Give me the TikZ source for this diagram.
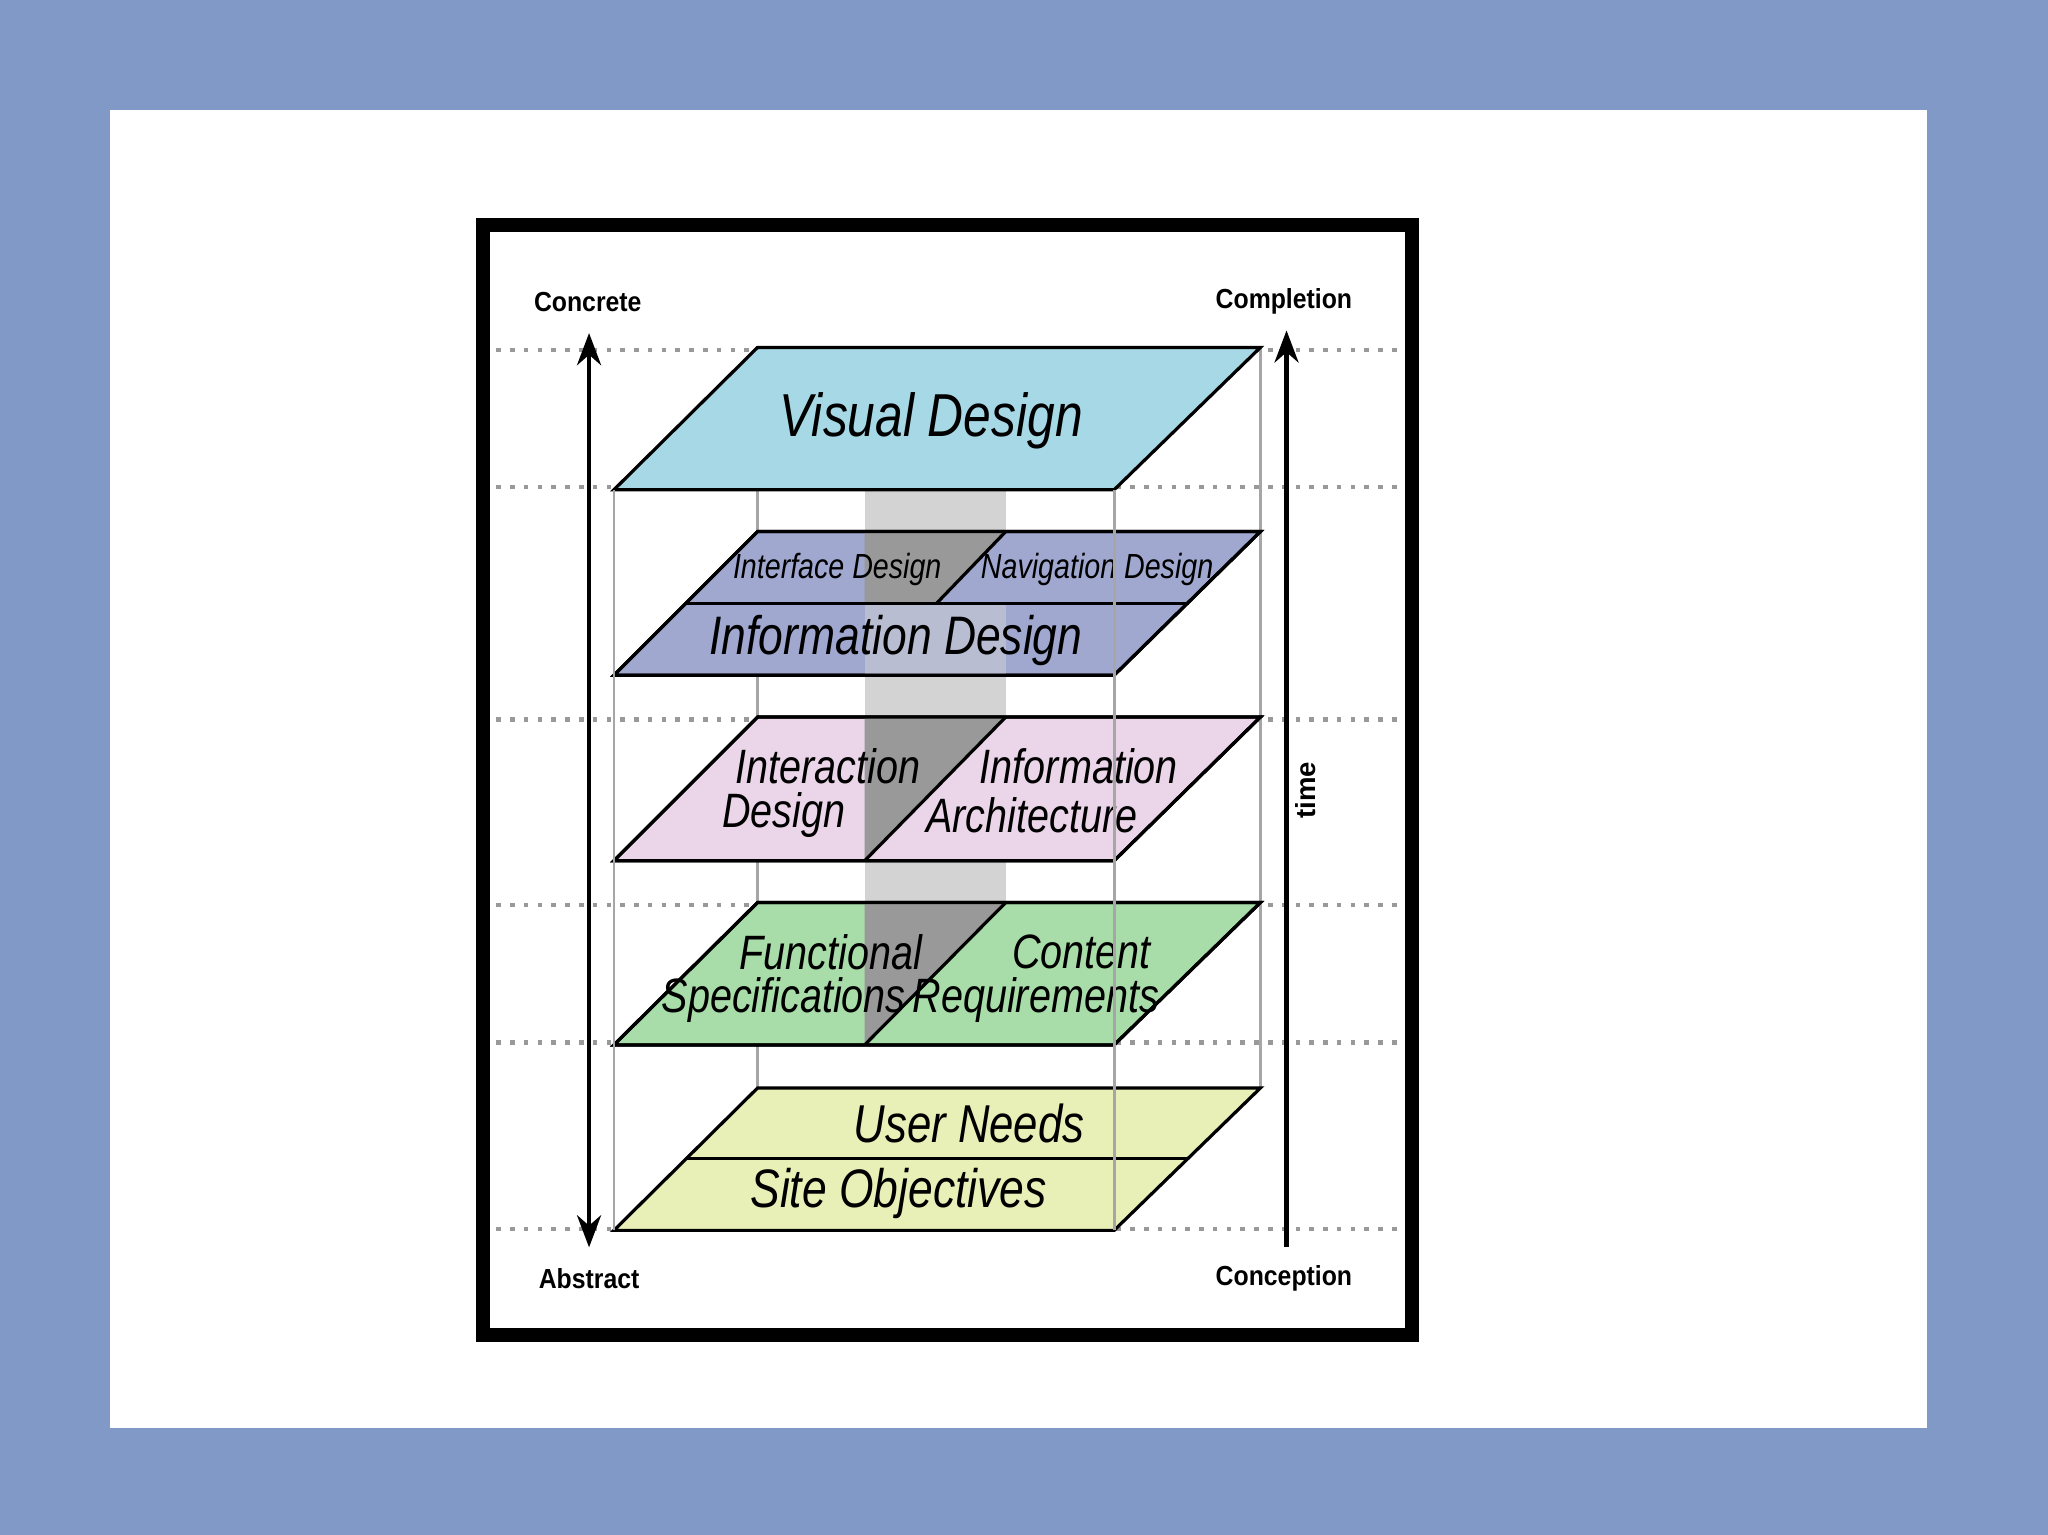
\documentclass[tikz,border=0pt]{standalone}
\usepackage{fontspec}
\setmainfont{Liberation Sans}
\usetikzlibrary{arrows.meta}
\definecolor{bgblue}{HTML}{8199C6}
\definecolor{vis}{HTML}{A6D8E6}
\definecolor{lav}{HTML}{A0A8D0}
\definecolor{pnk}{HTML}{EBD5E8}
\definecolor{grn}{HTML}{A8DCA8}
\definecolor{yel}{HTML}{E8F0B8}
\definecolor{lgray}{HTML}{D3D3D3}
\definecolor{dgray}{HTML}{999999}
\tikzset{
 plane/.style={draw=black, line width=0.7pt},
 guide/.style={draw=gray!70, line width=0.6pt},
 dots/.style={draw=gray!80, dotted, line width=1pt},
 lbl/.style={font=\fontsize{6}{7}\selectfont\bfseries, xscale=0.9, transform shape},
 ptxt/.style={inner sep=0pt, xscale=0.82, transform shape},
}
\newcommand{\pf}[1]{\fontsize{#1}{#1}\selectfont\itshape}
\begin{document}
\begin{tikzpicture}[x=0.01cm,y=-0.01cm]
\useasboundingbox (0,0) rectangle (1568,1175);
\fill[bgblue] (0,0) rectangle (1568,1175);
\fill[white] (84,84) rectangle (1475,1093);
\draw[line width=3pt, fill=white] (370,172) rectangle (1081,1022);
% dotted guides
\foreach \y in {268,373,551,693,798,941} \draw[dots] (380,\y) -- (1075,\y);
% gray column
\fill[lgray] (662,375) rectangle (770,691);
% back verticals
\draw[guide] (580,266) -- (580,833);
\draw[guide] (965,266) -- (965,833);
% Visual design
\draw[plane, fill=vis] (580,266) -- (965,266) -- (853,375) -- (470,375) -- cycle;
\node[ptxt, font=\pf{13.2}] (vd) at (713,322) {Visual Design};
% Interface / Navigation / Information design
\draw[plane, fill=lav] (580,407) -- (965,407) -- (853,517) -- (470,517) -- cycle;
\fill[dgray] (662,407) -- (770,407) -- (717,462) -- (662,462) -- cycle;
\fill[lgray, opacity=0.5] (662,462) rectangle (770,517);
\draw[plane] (580,407) -- (965,407) -- (853,517) -- (470,517) -- cycle;
\draw[plane] (525,462) -- (910,462);
\draw[plane] (770,407) -- (717,462);
\node[ptxt, font=\pf{7.6}] (ifd) at (641,436) {Interface Design};
\node[ptxt, font=\pf{7.6}] (nvd) at (840,436) {Navigation Design};
\node[ptxt, font=\pf{11.8}] (ind) at (686,490) {Information Design};
% Interaction / IA
\draw[plane, fill=pnk] (580,549) -- (965,549) -- (853,659) -- (470,659) -- cycle;
\fill[dgray] (662,549) -- (770,549) -- (662,659) -- cycle;
\draw[plane] (580,549) -- (965,549) -- (853,659) -- (470,659) -- cycle;
\draw[plane] (770,549) -- (662,659);
\node[ptxt, font=\pf{10.5}] (ixd1) at (634,587) {Interaction};
\node[ptxt, font=\pf{10.5}] (ixd2) at (600,624) {Design};
\node[ptxt, font=\pf{10.5}] (ia1) at (826,587) {Information};
\node[ptxt, font=\pf{10.5}] (ia2) at (790,624) {Architecture};
% Functional / Content
\draw[plane, fill=grn] (580,691) -- (965,691) -- (853,800) -- (470,800) -- cycle;
\fill[dgray] (662,691) -- (770,691) -- (662,800) -- cycle;
\draw[plane] (580,691) -- (965,691) -- (853,800) -- (470,800) -- cycle;
\draw[plane] (770,691) -- (662,800);
\node[ptxt, font=\pf{10.5}] (fs1) at (636,729) {Functional};
\node[ptxt, font=\pf{10.5}] (fs2) at (600,766) {Specifications};
\node[ptxt, font=\pf{10.5}] (cr1) at (828,729) {Content};
\node[ptxt, font=\pf{10.5}] (cr2) at (793,766) {Requirements};
% User needs / Site objectives
\draw[plane, fill=yel] (580,833) -- (965,833) -- (853,942) -- (470,942) -- cycle;
\draw[plane] (525,887) -- (910,887);
\node[ptxt, font=\pf{11.6}] (un) at (742,860) {User Needs};
\node[ptxt, font=\pf{11.8}] (so) at (688,914) {Site Objectives};
% front verticals
\draw[guide] (470,375) -- (470,942);
\draw[guide] (853,375) -- (853,942);
% arrows and labels
\node[lbl] (conc) at (450,231) {Concrete};
\node[lbl] (abs) at (451,979) {Abstract};
\node[lbl] (comp) at (983,231) {Completion};
\node[lbl] (conp) at (983,979) {Conception};
\coordinate (lt) at (451,255);
\coordinate (lb) at (451,955);
\coordinate (rt) at (985,253);
\coordinate (rb) at (985,955);
\draw[line width=0.9pt, {Stealth[length=7pt]}-{Stealth[length=7pt]}] (lb) -- (lt);
\draw[line width=0.9pt, -{Stealth[length=7pt]}] (rb) -- (rt);
\node[font=\fontsize{6}{7}\selectfont\bfseries, rotate=90] (time) at (1000,605) {time};
\end{tikzpicture}
\end{document}
